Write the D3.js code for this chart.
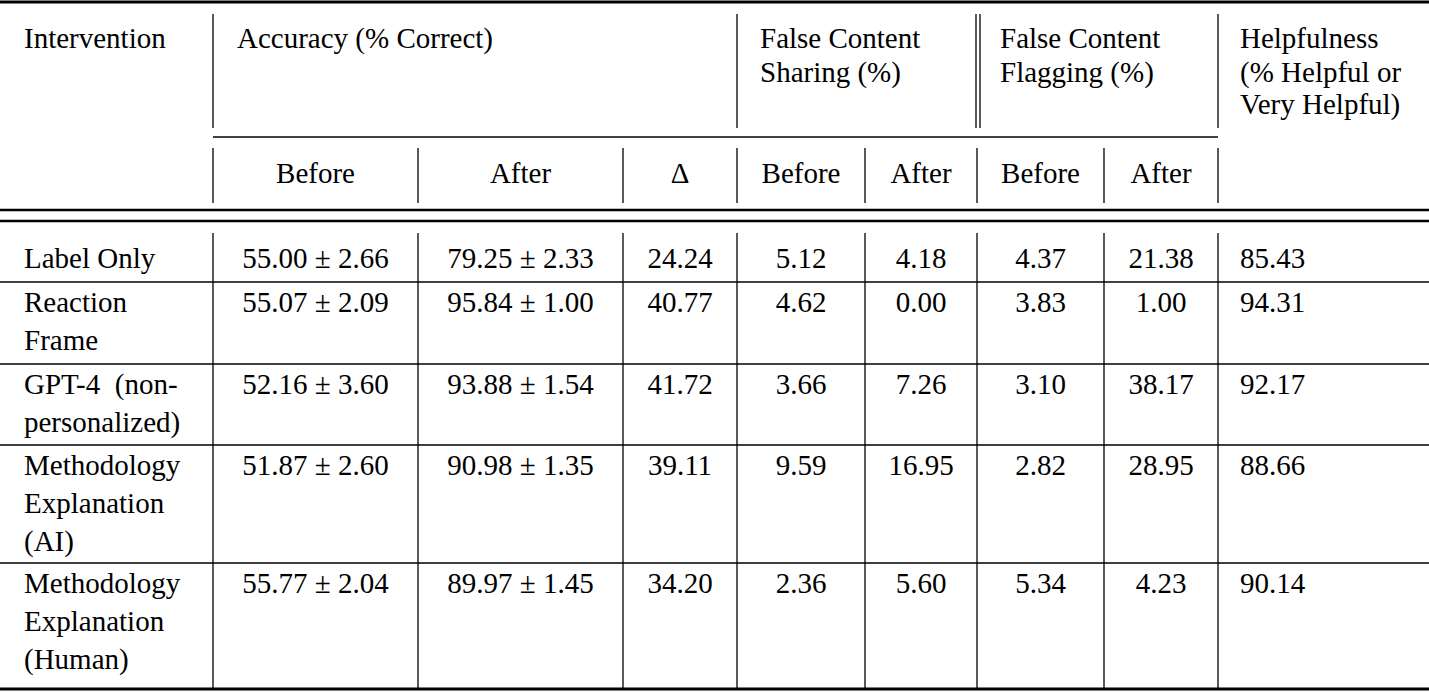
<!DOCTYPE html>
<html><head><meta charset="utf-8">
<script src="https://cdn.jsdelivr.net/npm/d3@7"></script>
<style>body{margin:0;background:#fff} text{font-family:"Liberation Serif","Times New Roman",Times,"DejaVu Serif",serif;}</style></head>
<body><svg id="c" width="1429" height="693"></svg>
<script>
const interventions=[["Label Only"],["Reaction","Frame"],["GPT-4  (non-","personalized)"],["Methodology","Explanation","(AI)"],["Methodology","Explanation","(Human)"]];
const accBefore=["55.00 ± 2.66","55.07 ± 2.09","52.16 ± 3.60","51.87 ± 2.60","55.77 ± 2.04"];
const accAfter=["79.25 ± 2.33","95.84 ± 1.00","93.88 ± 1.54","90.98 ± 1.35","89.97 ± 1.45"];
const accDelta=["24.24","40.77","41.72","39.11","34.20"];
const shareBefore=["5.12","4.62","3.66","9.59","2.36"];
const shareAfter=["4.18","0.00","7.26","16.95","5.60"];
const flagBefore=["4.37","3.83","3.10","2.82","5.34"];
const flagAfter=["21.38","1.00","38.17","28.95","4.23"];
const helpful=["85.43","94.31","92.17","88.66","90.14"];
const subHeaders=["Before","After","Δ","Before","After","Before","After"];

const svg=d3.select("#c");
const FS=29;
const colX=[0,213,418,623,737,865,977,1104,1218,1429];
const rowTops=[233,282,364,445,563];
const rowBottom=689;
function line(x1,y1,x2,y2,w){svg.append("line").attr("x1",x1).attr("y1",y1).attr("x2",x2).attr("y2",y2).attr("stroke","#000").attr("stroke-width",w||1.3);}
function text(x,y,s,anchor){svg.append("text").attr("x",x).attr("y",y).attr("font-size",FS).attr("text-anchor",anchor||"start").attr("fill","#000").style("white-space","pre").text(s);}

line(0,2,1429,2,3);
line(213,137,1218,137,1.3);
line(0,210,1429,210,2.5);
line(0,221,1429,221,2.5);
rowTops.slice(1).forEach(y=>line(0,y,1429,y,1.3));
line(0,rowBottom,1429,rowBottom,3);

[213,737,976,980,1218].forEach(x=>line(x,14,x,128));
[213,418,623,737,865,977,1104,1218].forEach(x=>line(x,148,x,203));
[213,418,623,737,865,977,1104,1218].forEach(x=>line(x,233,x,rowBottom));

text(24,48,"Intervention");
text(237,48,"Accuracy (% Correct)");
text(760,48,"False Content");text(760,82,"Sharing (%)");
text(1000,48,"False Content");text(1000,82,"Flagging (%)");
text(1240,48,"Helpfulness");text(1240,82,"(% Helpful or");text(1240,114,"Very Helpful)");
subHeaders.forEach((s,i)=>text((colX[i+1]+colX[i+2])/2,183,s,"middle"));

const cols=[accBefore,accAfter,accDelta,shareBefore,shareAfter,flagBefore,flagAfter];
interventions.forEach((lines,r)=>{
  const base=rowTops[r]+(r===0?35:30);
  lines.forEach((s,k)=>text(24,base+k*38,s));
  cols.forEach((c,i)=>text((colX[i+1]+colX[i+2])/2,base,c[r],"middle"));
  text(1240,base,helpful[r]);
});
</script></body></html>
